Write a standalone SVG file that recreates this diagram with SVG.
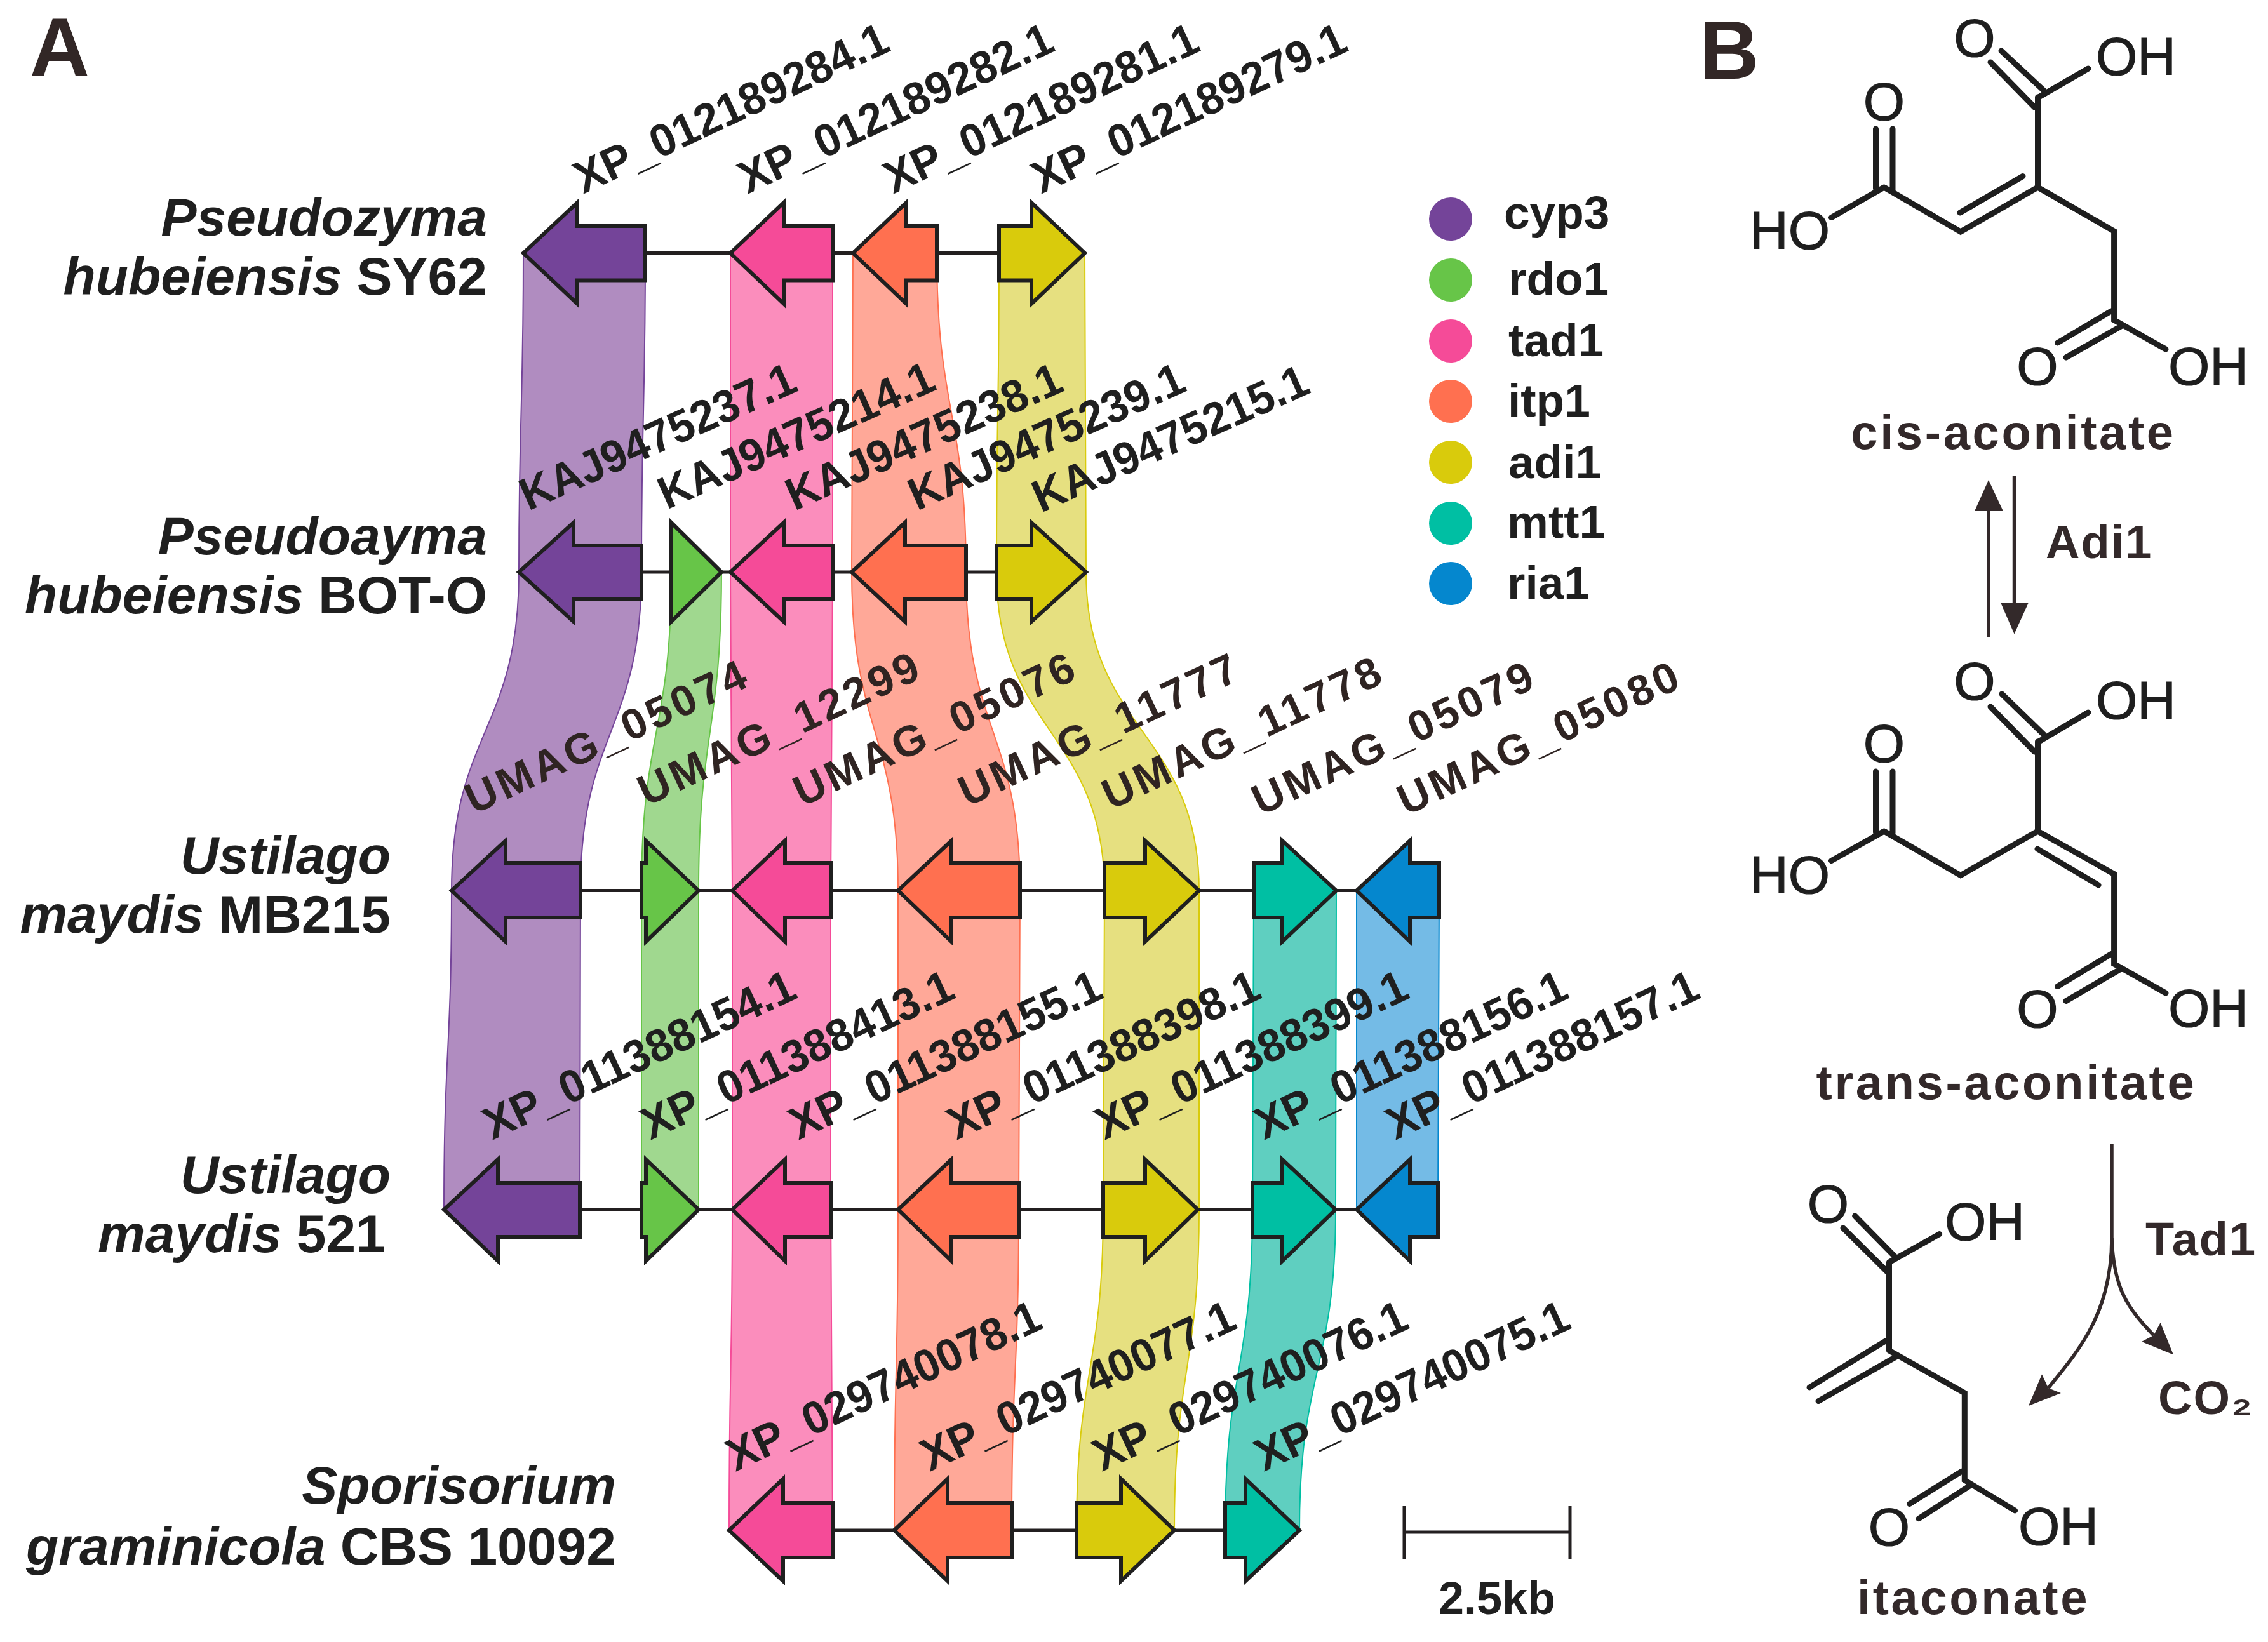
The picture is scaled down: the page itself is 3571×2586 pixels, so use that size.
<svg xmlns="http://www.w3.org/2000/svg" width="3571" height="2586" viewBox="0 0 3571 2586">
<style>
text{font-family:"Liberation Sans",Arial,sans-serif}
.lab{font-size:72px;font-weight:700;fill:#1f1f1f}
.um{font-size:68px;font-weight:700;fill:#2f2422;letter-spacing:5px}
.sp{font-size:84px;font-weight:700;fill:#1f1f1f;text-anchor:end}
.sp tspan{font-style:italic}
.leg{font-size:73px;font-weight:700;fill:#1f1f1f}
.cap{font-size:130px;font-weight:700;fill:#322726}
.atom{font-size:84px;fill:#1e1e1e;stroke:#1e1e1e;stroke-width:1.2px}
.mid{text-anchor:middle}
.cmp{font-size:76px;font-weight:700;fill:#33292a;letter-spacing:3.6px}
.rx{font-size:74px;font-weight:700;fill:#33292a;letter-spacing:2px}
.bond{stroke:#1e1e1e;stroke-width:9;stroke-linecap:round;fill:none}
.rxn{stroke:#33292a;stroke-width:5.5;fill:none}
.hd{fill:#33292a}
.ln{stroke:#231f20;stroke-width:5;fill:none}
.rib{stroke-width:2}
.g{stroke:#1f1f1f;stroke-width:6;stroke-linejoin:miter}
.cyp3{fill:#744499}.rdo1{fill:#67C548}.tad1{fill:#F54B98}.itp1{fill:#FF7050}.adi1{fill:#D9CB0C}.mtt1{fill:#00BFA3}.ria1{fill:#0587CE}
.rib.cyp3{fill:#B08CC0;stroke:#744499}.rib.rdo1{fill:#A0D88F;stroke:#67C548}.rib.tad1{fill:#FB8DBC;stroke:#F54B98}.rib.itp1{fill:#FFA898;stroke:#FF7050}.rib.adi1{fill:#E6E080;stroke:#D9CB0C}.rib.mtt1{fill:#5FCFC0;stroke:#00BFA3}.rib.ria1{fill:#74BBE6;stroke:#0587CE}
</style>
<rect width="3571" height="2586" fill="#ffffff"/>
<g id="ribbons">
<path class="rib cyp3" d="M824,398.6 C824,650 817,650 817,901 C817,1152 711,1152 711,1402.6 C711,1654 699,1654 699,1905 L913,1905 C913,1654 914,1654 914,1402.6 C914,1152 1010,1152 1010,901 C1010,650 1016,650 1016,398.6 Z"/>
<path class="rib rdo1" d="M1057,901 C1057,1152 1010,1152 1010,1402.6 L1010,1905 L1100,1905 L1100,1402.6 C1100,1152 1136,1152 1136,901 Z"/>
<path class="rib tad1" d="M1150,398.6 L1150,901 C1150,1152 1153,1152 1153,1402.6 L1153,1905 C1153,2157 1148,2157 1148,2410 L1311,2410 C1311,2157 1308,2157 1308,1905 L1308,1402.6 C1308,1152 1311,1152 1311,901 L1311,398.6 Z"/>
<path class="rib itp1" d="M1343,398.6 C1343,650 1341,650 1341,901 C1341,1152 1414,1152 1414,1402.6 L1414,1905 C1414,2157 1408,2157 1408,2410 L1593,2410 C1593,2157 1604,2157 1604,1905 C1604,1654 1606,1654 1606,1402.6 C1606,1152 1521,1152 1521,901 C1521,650 1475,650 1475,398.6 Z"/>
<path class="rib adi1" d="M1573,398.6 C1573,650 1569,650 1569,901 C1569,1152 1739,1152 1739,1402.6 C1739,1654 1737,1654 1737,1905 C1737,2157 1695,2157 1695,2410 L1849,2410 C1849,2157 1888,2157 1888,1905 L1888,1402.6 C1888,1152 1710,1152 1710,901 C1710,650 1708,650 1708,398.6 Z"/>
<path class="rib mtt1" d="M1974,1402.6 L1972,1905 C1972,2157 1929,2157 1929,2410 L2046,2410 C2046,2157 2103,2157 2103,1905 L2104,1402.6 Z"/>
<path class="rib ria1" d="M2136,1402.6 L2136,1905 L2264,1905 L2266,1402.6 Z"/>
</g>
<g id="connectors">
<path class="ln" d="M1016,398.6H1573"/>
<path class="ln" d="M1010,901H1569"/>
<path class="ln" d="M914,1402.6H2136"/>
<path class="ln" d="M913,1905H2136"/>
<path class="ln" d="M1311,2410H1929"/>
</g>
<g id="row1">
<g id="gene-XP_012189284"><polygon class="g cyp3" points="824,398.6 909,319 909,356 1016,356 1016,441.5 909,441.5 909,478.5"/><text class="lab" transform="translate(918,306) rotate(-25) scale(.965,1)">XP_012189284.1</text></g>
<g id="gene-XP_012189282"><polygon class="g tad1" points="1150,398.6 1234,319 1234,356 1311,356 1311,441.5 1234,441.5 1234,478.5"/><text class="lab" transform="translate(1177,306) rotate(-25) scale(.965,1)">XP_012189282.1</text></g>
<g id="gene-XP_012189281"><polygon class="g itp1" points="1343,398.6 1427,319 1427,356 1475,356 1475,441.5 1427,441.5 1427,478.5"/><text class="lab" transform="translate(1406,306) rotate(-25) scale(.965,1)">XP_012189281.1</text></g>
<g id="gene-XP_012189279"><polygon class="g adi1" points="1708,398.6 1624,319 1624,356 1573,356 1573,441.5 1624,441.5 1624,478.5"/><text class="lab" transform="translate(1639,306) rotate(-25) scale(.965,1)">XP_012189279.1</text></g>
</g>
<g id="row2">
<g id="gene-KAJ9475237"><polygon class="g cyp3" points="817,901 903,823 903,859 1010,859 1010,943 903,943 903,979"/><text class="lab" transform="translate(832,805) rotate(-24) scale(.965,1)">KAJ9475237.1</text></g>
<g id="gene-KAJ9475214"><polygon class="g rdo1" points="1136,901 1057,823 1057,979"/><text class="lab" transform="translate(1050,803) rotate(-24) scale(.965,1)">KAJ9475214.1</text></g>
<g id="gene-KAJ9475238"><polygon class="g tad1" points="1150,901 1234,823 1234,859 1311,859 1311,943 1234,943 1234,979"/><text class="lab" transform="translate(1251,805) rotate(-24) scale(.965,1)">KAJ9475238.1</text></g>
<g id="gene-KAJ9475239"><polygon class="g itp1" points="1341,901 1425,823 1425,859 1521,859 1521,943 1425,943 1425,979"/><text class="lab" transform="translate(1444,805) rotate(-24) scale(.965,1)">KAJ9475239.1</text></g>
<g id="gene-KAJ9475215"><polygon class="g adi1" points="1710,901 1624,823 1624,859 1569,859 1569,943 1624,943 1624,979"/><text class="lab" transform="translate(1639,808) rotate(-24) scale(.965,1)">KAJ9475215.1</text></g>
</g>
<g id="row3">
<g id="gene-UMAG_05074"><polygon class="g cyp3" points="711,1402.6 796,1324 796,1359 914,1359 914,1445 796,1445 796,1483"/><text class="um" transform="translate(746,1283) rotate(-25)">UMAG_05074</text></g>
<g id="gene-UMAG_12299"><polygon class="g rdo1" points="1100,1402.6 1017,1324 1017,1359 1010,1359 1010,1445 1017,1445 1017,1483"/><text class="um" transform="translate(1018,1270) rotate(-25)">UMAG_12299</text></g>
<g id="gene-UMAG_05076"><polygon class="g tad1" points="1153,1402.6 1236,1324 1236,1359 1308,1359 1308,1445 1236,1445 1236,1483"/><text class="um" transform="translate(1263,1271) rotate(-25)">UMAG_05076</text></g>
<g id="gene-UMAG_11777"><polygon class="g itp1" points="1414,1402.6 1498,1324 1498,1359 1606,1359 1606,1445 1498,1445 1498,1483"/><text class="um" transform="translate(1523,1271) rotate(-25)">UMAG_11777</text></g>
<g id="gene-UMAG_11778"><polygon class="g adi1" points="1888,1402.6 1803,1324 1803,1359 1739,1359 1739,1445 1803,1445 1803,1483"/><text class="um" transform="translate(1749,1276) rotate(-25)">UMAG_11778</text></g>
<g id="gene-UMAG_05079"><polygon class="g mtt1" points="2104,1402.6 2019,1324 2019,1359 1974,1359 1974,1445 2019,1445 2019,1483"/><text class="um" transform="translate(1985,1285) rotate(-25)">UMAG_05079</text></g>
<g id="gene-UMAG_05080"><polygon class="g ria1" points="2136,1402.6 2220,1324 2220,1359 2266,1359 2266,1445 2220,1445 2220,1483"/><text class="um" transform="translate(2214,1285) rotate(-25)">UMAG_05080</text></g>
</g>
<g id="row4">
<g id="gene-XP_011388154"><polygon class="g cyp3" points="699,1905 784,1826 784,1863 913,1863 913,1948 784,1948 784,1986"/><text class="lab" transform="translate(775,1796) rotate(-25) scale(.965,1)">XP_011388154.1</text></g>
<g id="gene-XP_011388413"><polygon class="g rdo1" points="1100,1905 1017,1826 1017,1863 1010,1863 1010,1948 1017,1948 1017,1986"/><text class="lab" transform="translate(1024,1796) rotate(-25) scale(.965,1)">XP_011388413.1</text></g>
<g id="gene-XP_011388155"><polygon class="g tad1" points="1153,1905 1236,1826 1236,1863 1308,1863 1308,1948 1236,1948 1236,1986"/><text class="lab" transform="translate(1257,1796) rotate(-25) scale(.965,1)">XP_011388155.1</text></g>
<g id="gene-XP_011388398"><polygon class="g itp1" points="1414,1905 1498,1826 1498,1863 1604,1863 1604,1948 1498,1948 1498,1986"/><text class="lab" transform="translate(1506,1796) rotate(-25) scale(.965,1)">XP_011388398.1</text></g>
<g id="gene-XP_011388399"><polygon class="g adi1" points="1886,1905 1803,1826 1803,1863 1737,1863 1737,1948 1803,1948 1803,1986"/><text class="lab" transform="translate(1739,1796) rotate(-25) scale(.965,1)">XP_011388399.1</text></g>
<g id="gene-XP_011388156"><polygon class="g mtt1" points="2103,1905 2019,1826 2019,1863 1972,1863 1972,1948 2019,1948 2019,1986"/><text class="lab" transform="translate(1990,1796) rotate(-25) scale(.965,1)">XP_011388156.1</text></g>
<g id="gene-XP_011388157"><polygon class="g ria1" points="2136,1905 2220,1826 2220,1863 2264,1863 2264,1948 2220,1948 2220,1986"/><text class="lab" transform="translate(2197,1796) rotate(-25) scale(.965,1)">XP_011388157.1</text></g>
</g>
<g id="row5">
<g id="gene-XP_029740078"><polygon class="g tad1" points="1148,2410 1233,2329 1233,2367 1311,2367 1311,2453 1233,2453 1233,2490"/><text class="lab" transform="translate(1158,2318) rotate(-25) scale(.965,1)">XP_029740078.1</text></g>
<g id="gene-XP_029740077"><polygon class="g itp1" points="1408,2410 1492,2329 1492,2367 1593,2367 1593,2453 1492,2453 1492,2490"/><text class="lab" transform="translate(1464,2318) rotate(-25) scale(.965,1)">XP_029740077.1</text></g>
<g id="gene-XP_029740076"><polygon class="g adi1" points="1849,2410 1765,2329 1765,2367 1695,2367 1695,2453 1765,2453 1765,2490"/><text class="lab" transform="translate(1735,2318) rotate(-25) scale(.965,1)">XP_029740076.1</text></g>
<g id="gene-XP_029740075"><polygon class="g mtt1" points="2046,2410 1961,2329 1961,2367 1929,2367 1929,2453 1961,2453 1961,2490"/><text class="lab" transform="translate(1990,2318) rotate(-25) scale(.965,1)">XP_029740075.1</text></g>
</g>
<g id="species">
<text class="sp" x="767" y="371"><tspan>Pseudozyma</tspan></text>
<text class="sp" x="767" y="464"><tspan>hubeiensis</tspan> SY62</text>
<text class="sp" x="767" y="873"><tspan>Pseudoayma</tspan></text>
<text class="sp" x="767" y="966"><tspan>hubeiensis</tspan> BOT-O</text>
<text class="sp" x="615" y="1376"><tspan>Ustilago</tspan></text>
<text class="sp" x="615" y="1469"><tspan>maydis</tspan> MB215</text>
<text class="sp" x="615" y="1879"><tspan>Ustilago</tspan></text>
<text class="sp" x="607" y="1972"><tspan>maydis</tspan> 521</text>
<text class="sp" x="970" y="2368"><tspan>Sporisorium</tspan></text>
<text class="sp" x="970" y="2464"><tspan>graminicola</tspan> CBS 10092</text>
</g>
<g id="legend">
<ellipse class="cyp3" cx="2284" cy="345" rx="34" ry="34"/><text class="leg" x="2368" y="360">cyp3</text>
<ellipse class="rdo1" cx="2284" cy="441" rx="34" ry="34"/><text class="leg" x="2375" y="464">rdo1</text>
<ellipse class="tad1" cx="2284" cy="537" rx="34" ry="34"/><text class="leg" x="2375" y="561">tad1</text>
<ellipse class="itp1" cx="2284" cy="632" rx="34" ry="34"/><text class="leg" x="2374" y="656">itp1</text>
<ellipse class="adi1" cx="2284" cy="728" rx="34" ry="34"/><text class="leg" x="2375" y="753">adi1</text>
<ellipse class="mtt1" cx="2284" cy="824" rx="34" ry="34"/><text class="leg" x="2373" y="847">mtt1</text>
<ellipse class="ria1" cx="2284" cy="919" rx="34" ry="34"/><text class="leg" x="2373" y="943">ria1</text>
</g>
<g id="scale">
<path class="ln" d="M2211,2413H2472"/>
<path class="ln" stroke-width="4" d="M2211,2372V2455M2472,2372V2455"/>
<text x="2357" y="2542" class="mid" font-size="72" font-weight="700" fill="#1f1f1f">2.5kb</text>
</g>
<text class="cap" x="47" y="119">A</text>
<text class="cap" x="2676" y="124">B</text>
<g id="cis-aconitate">
<path class="bond" d="M3151,80L3219,143.5M3134,98L3203.5,169M3210,153L3288,108M3208.5,153V295M3208.5,295L3087,365L2966.5,295M3185,277.5L3086,335M2953.5,203V297M2980,203V300M2966.5,295L2883.5,342.6M3208.5,295L3328.6,364V504L3410,550M3324,490L3239.5,540M3340,513.6L3253,563"/>
<text class="atom mid" x="2966.5" y="189">O</text>
<text class="atom mid" x="3109" y="89">O</text>
<text class="atom" x="3300" y="118">OH</text>
<text class="atom" x="2755" y="392">HO</text>
<text class="atom mid" x="3208" y="606">O</text>
<text class="atom" x="3414" y="606">OH</text>
<text class="cmp mid" x="3170" y="707">cis-aconitate</text>
</g>
<g id="trans-aconitate">
<path class="bond" d="M3152,1093L3218,1157M3134,1113L3203.5,1184M3210,1168L3288,1122M3208.5,1168V1309M3208.5,1309L3328.6,1376.5V1518L3410,1564M3208,1337L3304,1394M3208.5,1309L3087,1378.6L2966.5,1309M2953.5,1215V1311M2980,1215V1312M2966.5,1309L2883.5,1355.6M3324,1502.5L3239.5,1553.6M3340,1525.5L3253,1576.5"/>
<text class="atom mid" x="2966.5" y="1200">O</text>
<text class="atom mid" x="3109" y="1102">O</text>
<text class="atom" x="3300" y="1132">OH</text>
<text class="atom" x="2755" y="1407">HO</text>
<text class="atom mid" x="3208" y="1618">O</text>
<text class="atom" x="3414" y="1617">OH</text>
<text class="cmp mid" x="3159" y="1731">trans-aconitate</text>
</g>
<g id="itaconate">
<path class="bond" d="M2920.6,1915L2985,1980.5M2902,1934L2974.5,2006M2974.5,1988L3053.7,1943.5M2974.5,1988V2127M2969.5,2111.5L2849,2185M2985,2137L2863,2206.6M2974.5,2127L3093.3,2193.8V2331L3172.6,2379M3089,2317L3006.7,2368.5M3101.4,2340L3021,2391.7"/>
<text class="atom mid" x="2878.5" y="1925">O</text>
<text class="atom" x="3062" y="1953">OH</text>
<text class="atom mid" x="2974.5" y="2434">O</text>
<text class="atom" x="3178" y="2433">OH</text>
<text class="cmp mid" x="3107" y="2542">itaconate</text>
</g>
<g id="reactions">
<path class="rxn" d="M3131,1003V800"/>
<polygon class="hd" points="3131,756 3154,805 3109,805"/>
<path class="rxn" d="M3171.5,750V955"/>
<polygon class="hd" points="3171.5,998.5 3150,949 3194,949"/>
<text class="rx" x="3221" y="879">Adi1</text>
<path class="rxn" d="M3325,1801.6V1950C3325,2070 3270,2130 3225,2186"/>
<path class="rxn" d="M3325,1950C3328,2030 3350,2060 3391,2103"/>
<polygon class="hd" points="3194,2214 3215,2164.5 3225,2186 3245,2194"/>
<polygon class="hd" points="3422,2133.6 3401.6,2083 3391,2103 3372,2113"/>
<text class="rx" x="3378" y="1977">Tad1</text>
<text class="rx" x="3398" y="2227">CO₂</text>
</g>
</svg>
